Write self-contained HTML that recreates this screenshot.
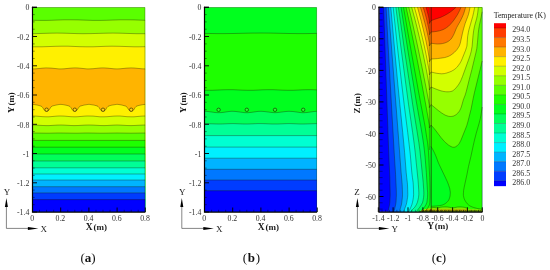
<!DOCTYPE html>
<html><head><meta charset="utf-8"><title>Temperature contours</title>
<style>html,body{margin:0;padding:0;background:#fff}svg{display:block}</style></head>
<body><svg width="550" height="270" viewBox="0 0 550 270" font-family="'Liberation Serif', 'Times New Roman', serif" fill="#1a1a1a">
<rect width="550" height="270" fill="#fff"/>
<rect x="33.0" y="7.3" width="112.1" height="204.5" fill="#5aff00"/>
<path d="M33.0,20.3 L40.0,20.4 L46.0,20.4 L51.0,20.3 L64.0,19.8 L71.0,19.8 L78.0,19.9 L93.0,20.4 L100.0,20.4 L106.0,20.3 L120.0,19.8 L127.0,19.8 L134.0,19.9 L145.1,20.3 L145.1,211.8 L33.0,211.8Z" fill="#96ff00"/>
<path d="M33.0,33.7 L50.0,33.2 L57.0,33.1 L64.0,33.2 L77.0,33.6 L83.0,33.7 L91.0,33.6 L106.0,33.2 L113.0,33.1 L120.0,33.2 L136.0,33.7 L145.1,33.7 L145.1,211.8 L33.0,211.8Z" fill="#d2ff00"/>
<path d="M33.0,46.8 L38.0,46.8 L42.0,46.8 L56.0,46.3 L62.0,46.2 L68.0,46.2 L80.0,46.7 L86.0,46.8 L93.0,46.8 L106.0,46.3 L112.0,46.2 L119.0,46.3 L134.0,46.8 L139.0,46.8 L145.1,46.7 L145.1,211.8 L33.0,211.8Z" fill="#fff000"/>
<path d="M33.0,68.9 L36.0,68.8 L43.0,68.1 L46.0,67.9 L49.0,68.0 L51.0,68.1 L57.0,68.7 L59.0,68.9 L61.0,68.9 L64.0,68.8 L71.0,68.1 L74.0,67.9 L76.0,67.9 L78.0,68.0 L85.0,68.7 L87.0,68.9 L89.0,68.9 L91.0,68.8 L93.0,68.7 L100.0,68.0 L102.0,67.9 L104.0,67.9 L107.0,68.1 L114.0,68.8 L117.0,68.9 L120.0,68.8 L127.0,68.1 L129.0,68.0 L131.0,67.9 L134.0,68.0 L142.0,68.8 L145.1,68.9 L145.1,211.8 L33.0,211.8Z" fill="#ffb400"/>
<path d="M33.0,104.4 L35.0,104.7 L37.0,105.0 L39.0,105.5 L41.0,106.1 L42.0,106.7 L43.0,108.0 L44.0,109.7 L45.0,110.8 L46.0,111.3 L47.0,111.3 L48.0,110.9 L49.0,110.0 L51.0,106.9 L52.0,106.1 L53.0,105.8 L56.0,105.1 L59.0,104.5 L60.0,104.4 L61.0,104.4 L63.0,104.6 L65.0,105.0 L67.0,105.4 L69.0,106.0 L70.0,106.5 L71.0,107.7 L72.0,109.4 L73.0,110.6 L74.0,111.2 L75.0,111.3 L76.0,111.0 L77.0,110.2 L79.0,107.1 L80.0,106.2 L81.0,105.9 L84.0,105.1 L87.0,104.6 L89.0,104.3 L92.0,104.8 L94.0,105.1 L97.0,105.9 L98.0,106.4 L99.0,107.4 L100.0,109.1 L101.0,110.5 L102.0,111.1 L103.0,111.3 L104.0,111.1 L105.0,110.5 L106.0,109.1 L107.0,107.4 L108.0,106.4 L109.0,105.9 L110.0,105.6 L112.0,105.1 L114.0,104.8 L117.0,104.3 L118.0,104.4 L120.0,104.7 L122.0,105.1 L125.0,105.9 L126.0,106.2 L127.0,107.1 L129.0,110.2 L130.0,111.0 L131.0,111.3 L132.0,111.2 L133.0,110.6 L134.0,109.4 L135.0,107.7 L136.0,106.5 L137.0,106.0 L139.0,105.4 L141.0,105.0 L143.0,104.6 L145.1,104.4 L145.1,211.8 L33.0,211.8Z" fill="#fff000"/>
<path d="M33.0,116.0 L36.0,116.1 L43.0,116.7 L46.0,116.8 L49.0,116.8 L57.0,116.1 L59.0,116.0 L61.0,116.0 L64.0,116.1 L71.0,116.7 L74.0,116.8 L76.0,116.8 L78.0,116.7 L85.0,116.1 L87.0,116.0 L89.0,116.0 L93.0,116.1 L100.0,116.8 L102.0,116.8 L104.0,116.8 L107.0,116.7 L114.0,116.1 L117.0,116.0 L120.0,116.0 L127.0,116.7 L131.0,116.8 L134.0,116.8 L142.0,116.1 L145.1,116.0 L145.1,211.8 L33.0,211.8Z" fill="#d2ff00"/>
<path d="M33.0,125.0 L36.0,125.1 L43.0,125.5 L46.0,125.6 L49.0,125.6 L57.0,125.1 L61.0,125.0 L64.0,125.1 L71.0,125.5 L74.0,125.6 L78.0,125.5 L85.0,125.1 L89.0,125.0 L93.0,125.1 L100.0,125.5 L104.0,125.6 L107.0,125.5 L114.0,125.1 L117.0,125.0 L120.0,125.1 L127.0,125.5 L131.0,125.6 L134.0,125.5 L142.0,125.1 L145.1,125.0 L145.1,211.8 L33.0,211.8Z" fill="#96ff00"/>
<path d="M33.0,133.0 L46.0,133.2 L49.0,133.2 L57.0,133.0 L61.0,133.0 L74.0,133.2 L78.0,133.2 L85.0,133.0 L89.0,133.0 L100.0,133.2 L104.0,133.2 L117.0,133.0 L131.0,133.2 L145.1,133.0 L145.1,211.8 L33.0,211.8Z" fill="#5aff00"/>
<path d="M33.0,140.4 L145.1,140.4 L145.1,211.8 L33.0,211.8Z" fill="#1eff00"/>
<path d="M33.0,147.2 L145.1,147.2 L145.1,211.8 L33.0,211.8Z" fill="#00ff1e"/>
<path d="M33.0,154.0 L145.1,154.0 L145.1,211.8 L33.0,211.8Z" fill="#00ff5a"/>
<path d="M33.0,161.0 L145.1,161.0 L145.1,211.8 L33.0,211.8Z" fill="#00ff96"/>
<path d="M33.0,167.8 L145.1,167.8 L145.1,211.8 L33.0,211.8Z" fill="#00ffd2"/>
<path d="M33.0,174.0 L145.1,174.0 L145.1,211.8 L33.0,211.8Z" fill="#00f0ff"/>
<path d="M33.0,180.0 L145.1,180.0 L145.1,211.8 L33.0,211.8Z" fill="#00b4ff"/>
<path d="M33.0,186.7 L145.1,186.7 L145.1,211.8 L33.0,211.8Z" fill="#0078ff"/>
<path d="M33.0,192.9 L145.1,192.9 L145.1,211.8 L33.0,211.8Z" fill="#003cff"/>
<path d="M33.0,199.6 L145.1,199.6 L145.1,211.8 L33.0,211.8Z" fill="#0000ff"/>
<path d="M33.0,20.3 L40.0,20.4 L46.0,20.4 L51.0,20.3 L64.0,19.8 L71.0,19.8 L78.0,19.9 L93.0,20.4 L100.0,20.4 L106.0,20.3 L120.0,19.8 L127.0,19.8 L134.0,19.9 L145.1,20.3" stroke="#1a1a00" stroke-opacity="0.7" stroke-width="0.5" fill="none"/>
<path d="M33.0,33.7 L50.0,33.2 L57.0,33.1 L64.0,33.2 L77.0,33.6 L83.0,33.7 L91.0,33.6 L106.0,33.2 L113.0,33.1 L120.0,33.2 L136.0,33.7 L145.1,33.7" stroke="#1a1a00" stroke-opacity="0.7" stroke-width="0.5" fill="none"/>
<path d="M33.0,46.8 L38.0,46.8 L42.0,46.8 L56.0,46.3 L62.0,46.2 L68.0,46.2 L80.0,46.7 L86.0,46.8 L93.0,46.8 L106.0,46.3 L112.0,46.2 L119.0,46.3 L134.0,46.8 L139.0,46.8 L145.1,46.7" stroke="#1a1a00" stroke-opacity="0.7" stroke-width="0.5" fill="none"/>
<path d="M33.0,68.9 L36.0,68.8 L43.0,68.1 L46.0,67.9 L49.0,68.0 L51.0,68.1 L57.0,68.7 L59.0,68.9 L61.0,68.9 L64.0,68.8 L71.0,68.1 L74.0,67.9 L76.0,67.9 L78.0,68.0 L85.0,68.7 L87.0,68.9 L89.0,68.9 L91.0,68.8 L93.0,68.7 L100.0,68.0 L102.0,67.9 L104.0,67.9 L107.0,68.1 L114.0,68.8 L117.0,68.9 L120.0,68.8 L127.0,68.1 L129.0,68.0 L131.0,67.9 L134.0,68.0 L142.0,68.8 L145.1,68.9" stroke="#1a1a00" stroke-opacity="0.7" stroke-width="0.5" fill="none"/>
<path d="M33.0,104.4 L35.0,104.7 L37.0,105.0 L39.0,105.5 L41.0,106.1 L42.0,106.7 L43.0,108.0 L44.0,109.7 L45.0,110.8 L46.0,111.3 L47.0,111.3 L48.0,110.9 L49.0,110.0 L51.0,106.9 L52.0,106.1 L53.0,105.8 L56.0,105.1 L59.0,104.5 L60.0,104.4 L61.0,104.4 L63.0,104.6 L65.0,105.0 L67.0,105.4 L69.0,106.0 L70.0,106.5 L71.0,107.7 L72.0,109.4 L73.0,110.6 L74.0,111.2 L75.0,111.3 L76.0,111.0 L77.0,110.2 L79.0,107.1 L80.0,106.2 L81.0,105.9 L84.0,105.1 L87.0,104.6 L89.0,104.3 L92.0,104.8 L94.0,105.1 L97.0,105.9 L98.0,106.4 L99.0,107.4 L100.0,109.1 L101.0,110.5 L102.0,111.1 L103.0,111.3 L104.0,111.1 L105.0,110.5 L106.0,109.1 L107.0,107.4 L108.0,106.4 L109.0,105.9 L110.0,105.6 L112.0,105.1 L114.0,104.8 L117.0,104.3 L118.0,104.4 L120.0,104.7 L122.0,105.1 L125.0,105.9 L126.0,106.2 L127.0,107.1 L129.0,110.2 L130.0,111.0 L131.0,111.3 L132.0,111.2 L133.0,110.6 L134.0,109.4 L135.0,107.7 L136.0,106.5 L137.0,106.0 L139.0,105.4 L141.0,105.0 L143.0,104.6 L145.1,104.4" stroke="#1a1a00" stroke-opacity="0.7" stroke-width="0.5" fill="none"/>
<path d="M33.0,116.0 L36.0,116.1 L43.0,116.7 L46.0,116.8 L49.0,116.8 L57.0,116.1 L59.0,116.0 L61.0,116.0 L64.0,116.1 L71.0,116.7 L74.0,116.8 L76.0,116.8 L78.0,116.7 L85.0,116.1 L87.0,116.0 L89.0,116.0 L93.0,116.1 L100.0,116.8 L102.0,116.8 L104.0,116.8 L107.0,116.7 L114.0,116.1 L117.0,116.0 L120.0,116.0 L127.0,116.7 L131.0,116.8 L134.0,116.8 L142.0,116.1 L145.1,116.0" stroke="#1a1a00" stroke-opacity="0.7" stroke-width="0.5" fill="none"/>
<path d="M33.0,125.0 L36.0,125.1 L43.0,125.5 L46.0,125.6 L49.0,125.6 L57.0,125.1 L61.0,125.0 L64.0,125.1 L71.0,125.5 L74.0,125.6 L78.0,125.5 L85.0,125.1 L89.0,125.0 L93.0,125.1 L100.0,125.5 L104.0,125.6 L107.0,125.5 L114.0,125.1 L117.0,125.0 L120.0,125.1 L127.0,125.5 L131.0,125.6 L134.0,125.5 L142.0,125.1 L145.1,125.0" stroke="#1a1a00" stroke-opacity="0.7" stroke-width="0.5" fill="none"/>
<path d="M33.0,133.0 L46.0,133.2 L49.0,133.2 L57.0,133.0 L61.0,133.0 L74.0,133.2 L78.0,133.2 L85.0,133.0 L89.0,133.0 L100.0,133.2 L104.0,133.2 L117.0,133.0 L131.0,133.2 L145.1,133.0" stroke="#1a1a00" stroke-opacity="0.7" stroke-width="0.5" fill="none"/>
<path d="M33.0,140.4 L145.1,140.4" stroke="#1a1a00" stroke-opacity="0.7" stroke-width="0.5" fill="none"/>
<path d="M33.0,147.2 L145.1,147.2" stroke="#1a1a00" stroke-opacity="0.7" stroke-width="0.5" fill="none"/>
<path d="M33.0,154.0 L145.1,154.0" stroke="#1a1a00" stroke-opacity="0.7" stroke-width="0.5" fill="none"/>
<path d="M33.0,161.0 L145.1,161.0" stroke="#1a1a00" stroke-opacity="0.7" stroke-width="0.5" fill="none"/>
<path d="M33.0,167.8 L145.1,167.8" stroke="#1a1a00" stroke-opacity="0.7" stroke-width="0.5" fill="none"/>
<path d="M33.0,174.0 L145.1,174.0" stroke="#1a1a00" stroke-opacity="0.7" stroke-width="0.5" fill="none"/>
<path d="M33.0,180.0 L145.1,180.0" stroke="#1a1a00" stroke-opacity="0.7" stroke-width="0.5" fill="none"/>
<path d="M33.0,186.7 L145.1,186.7" stroke="#1a1a00" stroke-opacity="0.7" stroke-width="0.5" fill="none"/>
<path d="M33.0,192.9 L145.1,192.9" stroke="#1a1a00" stroke-opacity="0.7" stroke-width="0.5" fill="none"/>
<path d="M33.0,199.6 L145.1,199.6" stroke="#1a1a00" stroke-opacity="0.7" stroke-width="0.5" fill="none"/>
<path d="M33.0,7.5 H144.9 V211.8" stroke="#1a1a00" stroke-opacity="0.55" stroke-width="0.5" fill="none"/>
<circle cx="46.6" cy="109.7" r="1.7" stroke="#1a1a00" stroke-opacity="0.85" stroke-width="0.7" fill="#ffd21e"/>
<circle cx="74.8" cy="109.7" r="1.7" stroke="#1a1a00" stroke-opacity="0.85" stroke-width="0.7" fill="#ffd21e"/>
<circle cx="103.0" cy="109.7" r="1.7" stroke="#1a1a00" stroke-opacity="0.85" stroke-width="0.7" fill="#ffd21e"/>
<circle cx="131.2" cy="109.7" r="1.7" stroke="#1a1a00" stroke-opacity="0.85" stroke-width="0.7" fill="#ffd21e"/>
<rect x="205.0" y="7.3" width="111.8" height="204.5" fill="#00ff1e"/>
<path d="M205.0,33.4 L216.0,33.6 L225.0,33.6 L233.0,33.5 L251.0,33.1 L261.0,33.0 L271.0,33.1 L289.0,33.5 L297.0,33.6 L306.0,33.6 L316.8,33.4 L316.8,211.8 L205.0,211.8Z" fill="#1eff00"/>
<path d="M205.0,90.3 L209.0,90.3 L212.0,90.3 L223.0,89.8 L228.0,89.7 L233.0,89.7 L243.0,90.2 L248.0,90.3 L253.0,90.3 L263.0,89.8 L268.0,89.7 L273.0,89.7 L283.0,90.2 L288.0,90.3 L293.0,90.3 L303.0,89.8 L307.0,89.7 L312.0,89.7 L316.8,89.9 L316.8,211.8 L205.0,211.8Z" fill="#00ff1e"/>
<path d="M205.0,111.3 L208.0,111.5 L215.0,112.5 L218.0,112.7 L221.0,112.6 L223.0,112.4 L229.0,111.5 L231.0,111.3 L233.0,111.3 L236.0,111.5 L244.0,112.6 L246.0,112.7 L248.0,112.7 L251.0,112.4 L256.0,111.7 L258.0,111.4 L261.0,111.3 L263.0,111.4 L265.0,111.6 L272.0,112.5 L275.0,112.7 L278.0,112.5 L285.0,111.6 L287.0,111.4 L289.0,111.3 L291.0,111.4 L293.0,111.5 L300.0,112.5 L302.0,112.7 L304.0,112.7 L307.0,112.5 L314.0,111.5 L316.8,111.3 L316.8,211.8 L205.0,211.8Z" fill="#00ff5a"/>
<path d="M205.0,123.6 L218.0,124.0 L221.0,124.0 L229.0,123.7 L233.0,123.6 L236.0,123.7 L244.0,124.0 L248.0,124.0 L258.0,123.6 L261.0,123.6 L265.0,123.7 L272.0,124.0 L275.0,124.0 L278.0,124.0 L285.0,123.7 L289.0,123.6 L293.0,123.7 L300.0,124.0 L304.0,124.0 L316.8,123.6 L316.8,211.8 L205.0,211.8Z" fill="#00ff96"/>
<path d="M205.0,135.6 L316.8,135.6 L316.8,211.8 L205.0,211.8Z" fill="#00ffd2"/>
<path d="M205.0,147.1 L316.8,147.1 L316.8,211.8 L205.0,211.8Z" fill="#00f0ff"/>
<path d="M205.0,158.2 L316.8,158.2 L316.8,211.8 L205.0,211.8Z" fill="#00b4ff"/>
<path d="M205.0,169.3 L316.8,169.3 L316.8,211.8 L205.0,211.8Z" fill="#0078ff"/>
<path d="M205.0,180.0 L316.8,180.0 L316.8,211.8 L205.0,211.8Z" fill="#003cff"/>
<path d="M205.0,190.7 L316.8,190.7 L316.8,211.8 L205.0,211.8Z" fill="#0000ff"/>
<path d="M205.0,33.4 L216.0,33.6 L225.0,33.6 L233.0,33.5 L251.0,33.1 L261.0,33.0 L271.0,33.1 L289.0,33.5 L297.0,33.6 L306.0,33.6 L316.8,33.4" stroke="#1a1a00" stroke-opacity="0.7" stroke-width="0.5" fill="none"/>
<path d="M205.0,90.3 L209.0,90.3 L212.0,90.3 L223.0,89.8 L228.0,89.7 L233.0,89.7 L243.0,90.2 L248.0,90.3 L253.0,90.3 L263.0,89.8 L268.0,89.7 L273.0,89.7 L283.0,90.2 L288.0,90.3 L293.0,90.3 L303.0,89.8 L307.0,89.7 L312.0,89.7 L316.8,89.9" stroke="#1a1a00" stroke-opacity="0.7" stroke-width="0.5" fill="none"/>
<path d="M205.0,111.3 L208.0,111.5 L215.0,112.5 L218.0,112.7 L221.0,112.6 L223.0,112.4 L229.0,111.5 L231.0,111.3 L233.0,111.3 L236.0,111.5 L244.0,112.6 L246.0,112.7 L248.0,112.7 L251.0,112.4 L256.0,111.7 L258.0,111.4 L261.0,111.3 L263.0,111.4 L265.0,111.6 L272.0,112.5 L275.0,112.7 L278.0,112.5 L285.0,111.6 L287.0,111.4 L289.0,111.3 L291.0,111.4 L293.0,111.5 L300.0,112.5 L302.0,112.7 L304.0,112.7 L307.0,112.5 L314.0,111.5 L316.8,111.3" stroke="#1a1a00" stroke-opacity="0.7" stroke-width="0.5" fill="none"/>
<path d="M205.0,123.6 L218.0,124.0 L221.0,124.0 L229.0,123.7 L233.0,123.6 L236.0,123.7 L244.0,124.0 L248.0,124.0 L258.0,123.6 L261.0,123.6 L265.0,123.7 L272.0,124.0 L275.0,124.0 L278.0,124.0 L285.0,123.7 L289.0,123.6 L293.0,123.7 L300.0,124.0 L304.0,124.0 L316.8,123.6" stroke="#1a1a00" stroke-opacity="0.7" stroke-width="0.5" fill="none"/>
<path d="M205.0,135.6 L316.8,135.6" stroke="#1a1a00" stroke-opacity="0.7" stroke-width="0.5" fill="none"/>
<path d="M205.0,147.1 L316.8,147.1" stroke="#1a1a00" stroke-opacity="0.7" stroke-width="0.5" fill="none"/>
<path d="M205.0,158.2 L316.8,158.2" stroke="#1a1a00" stroke-opacity="0.7" stroke-width="0.5" fill="none"/>
<path d="M205.0,169.3 L316.8,169.3" stroke="#1a1a00" stroke-opacity="0.7" stroke-width="0.5" fill="none"/>
<path d="M205.0,180.0 L316.8,180.0" stroke="#1a1a00" stroke-opacity="0.7" stroke-width="0.5" fill="none"/>
<path d="M205.0,190.7 L316.8,190.7" stroke="#1a1a00" stroke-opacity="0.7" stroke-width="0.5" fill="none"/>
<path d="M205.0,7.5 H316.6 V211.8" stroke="#1a1a00" stroke-opacity="0.55" stroke-width="0.5" fill="none"/>
<circle cx="218.6" cy="109.8" r="1.7" stroke="#1a1a00" stroke-opacity="0.85" stroke-width="0.7" fill="#28ff32"/>
<circle cx="246.8" cy="109.8" r="1.7" stroke="#1a1a00" stroke-opacity="0.85" stroke-width="0.7" fill="#28ff32"/>
<circle cx="275.0" cy="109.8" r="1.7" stroke="#1a1a00" stroke-opacity="0.85" stroke-width="0.7" fill="#28ff32"/>
<circle cx="303.2" cy="109.8" r="1.7" stroke="#1a1a00" stroke-opacity="0.85" stroke-width="0.7" fill="#28ff32"/>
<path d="M32.5,7.3 h4.5 M32.5,36.5 h4.5 M32.5,65.8 h4.5 M32.5,95.0 h4.5 M32.5,124.3 h4.5 M32.5,153.5 h4.5 M32.5,182.8 h4.5 M32.5,212.0 h4.5" stroke="#000" stroke-width="0.9" fill="none"/>
<path d="M32.5,14.6 h2.2 M32.5,21.9 h2.2 M32.5,29.2 h2.2 M32.5,43.9 h2.2 M32.5,51.2 h2.2 M32.5,58.5 h2.2 M32.5,73.1 h2.2 M32.5,80.4 h2.2 M32.5,87.7 h2.2 M32.5,102.3 h2.2 M32.5,109.7 h2.2 M32.5,117.0 h2.2 M32.5,131.6 h2.2 M32.5,138.9 h2.2 M32.5,146.2 h2.2 M32.5,160.8 h2.2 M32.5,168.1 h2.2 M32.5,175.4 h2.2 M32.5,190.1 h2.2 M32.5,197.4 h2.2 M32.5,204.7 h2.2" stroke="#000" stroke-opacity="0.7" stroke-width="0.6" fill="none"/>
<path d="M32.5,212.0 v-4.5 M60.7,212.0 v-4.5 M88.9,212.0 v-4.5 M117.1,212.0 v-4.5 M145.3,212.0 v-4.5" stroke="#000" stroke-width="0.9" fill="none"/>
<path d="M39.5,212.0 v-2.2 M46.6,212.0 v-2.2 M53.7,212.0 v-2.2 M67.8,212.0 v-2.2 M74.8,212.0 v-2.2 M81.8,212.0 v-2.2 M96.0,212.0 v-2.2 M103.0,212.0 v-2.2 M110.1,212.0 v-2.2 M124.2,212.0 v-2.2 M131.2,212.0 v-2.2 M138.2,212.0 v-2.2" stroke="#000" stroke-opacity="0.7" stroke-width="0.6" fill="none"/>
<path d="M32.5,6.8 V212.2 H145.4" stroke="#000" stroke-width="1.2" fill="none"/>
<path d="M31.9,7.3 h5" stroke="#000" stroke-width="1.1"/>
<text x="29.3" y="10.2" text-anchor="end" font-size="7.8" fill="#333">0</text>
<text x="29.3" y="39.8" text-anchor="end" font-size="7.8" fill="#333">-0.2</text>
<text x="29.3" y="69.1" text-anchor="end" font-size="7.8" fill="#333">-0.4</text>
<text x="29.3" y="98.3" text-anchor="end" font-size="7.8" fill="#333">-0.6</text>
<text x="29.3" y="127.6" text-anchor="end" font-size="7.8" fill="#333">-0.8</text>
<text x="29.3" y="156.8" text-anchor="end" font-size="7.8" fill="#333">-1</text>
<text x="29.3" y="186.1" text-anchor="end" font-size="7.8" fill="#333">-1.2</text>
<text x="29.3" y="215.3" text-anchor="end" font-size="7.8" fill="#333">-1.4</text>
<text x="32.2" y="220.6" text-anchor="middle" font-size="7.8" fill="#333">0</text>
<text x="60.4" y="220.6" text-anchor="middle" font-size="7.8" fill="#333">0.2</text>
<text x="88.6" y="220.6" text-anchor="middle" font-size="7.8" fill="#333">0.4</text>
<text x="116.8" y="220.6" text-anchor="middle" font-size="7.8" fill="#333">0.6</text>
<text x="145.0" y="220.6" text-anchor="middle" font-size="7.8" fill="#333">0.8</text>
<text transform="translate(14.0,102.7) rotate(-90)" text-anchor="middle" font-size="9" font-weight="bold">Y<tspan font-size="8.8" dx="-1.2"> (m)</tspan></text>
<text x="96.3" y="229.5" text-anchor="middle" font-size="9.5" font-weight="bold">X<tspan font-size="9" dx="-1.4"> (m)</tspan></text>
<path d="M204.5,7.3 h4.5 M204.5,36.5 h4.5 M204.5,65.8 h4.5 M204.5,95.0 h4.5 M204.5,124.3 h4.5 M204.5,153.5 h4.5 M204.5,182.8 h4.5 M204.5,212.0 h4.5" stroke="#000" stroke-width="0.9" fill="none"/>
<path d="M204.5,14.6 h2.2 M204.5,21.9 h2.2 M204.5,29.2 h2.2 M204.5,43.9 h2.2 M204.5,51.2 h2.2 M204.5,58.5 h2.2 M204.5,73.1 h2.2 M204.5,80.4 h2.2 M204.5,87.7 h2.2 M204.5,102.3 h2.2 M204.5,109.7 h2.2 M204.5,117.0 h2.2 M204.5,131.6 h2.2 M204.5,138.9 h2.2 M204.5,146.2 h2.2 M204.5,160.8 h2.2 M204.5,168.1 h2.2 M204.5,175.4 h2.2 M204.5,190.1 h2.2 M204.5,197.4 h2.2 M204.5,204.7 h2.2" stroke="#000" stroke-opacity="0.7" stroke-width="0.6" fill="none"/>
<path d="M204.5,212.0 v-4.5 M232.7,212.0 v-4.5 M260.9,212.0 v-4.5 M289.1,212.0 v-4.5 M317.3,212.0 v-4.5" stroke="#000" stroke-width="0.9" fill="none"/>
<path d="M211.6,212.0 v-2.2 M218.6,212.0 v-2.2 M225.7,212.0 v-2.2 M239.8,212.0 v-2.2 M246.8,212.0 v-2.2 M253.8,212.0 v-2.2 M267.9,212.0 v-2.2 M275.0,212.0 v-2.2 M282.1,212.0 v-2.2 M296.1,212.0 v-2.2 M303.2,212.0 v-2.2 M310.2,212.0 v-2.2" stroke="#000" stroke-opacity="0.7" stroke-width="0.6" fill="none"/>
<path d="M204.5,6.8 V212.2 H317.1" stroke="#000" stroke-width="1.2" fill="none"/>
<path d="M203.9,7.3 h5" stroke="#000" stroke-width="1.1"/>
<text x="201.3" y="10.2" text-anchor="end" font-size="7.8" fill="#333">0</text>
<text x="201.3" y="39.8" text-anchor="end" font-size="7.8" fill="#333">-0.2</text>
<text x="201.3" y="69.1" text-anchor="end" font-size="7.8" fill="#333">-0.4</text>
<text x="201.3" y="98.3" text-anchor="end" font-size="7.8" fill="#333">-0.6</text>
<text x="201.3" y="127.6" text-anchor="end" font-size="7.8" fill="#333">-0.8</text>
<text x="201.3" y="156.8" text-anchor="end" font-size="7.8" fill="#333">-1</text>
<text x="201.3" y="186.1" text-anchor="end" font-size="7.8" fill="#333">-1.2</text>
<text x="201.3" y="215.3" text-anchor="end" font-size="7.8" fill="#333">-1.4</text>
<text x="204.2" y="220.6" text-anchor="middle" font-size="7.8" fill="#333">0</text>
<text x="232.4" y="220.6" text-anchor="middle" font-size="7.8" fill="#333">0.2</text>
<text x="260.6" y="220.6" text-anchor="middle" font-size="7.8" fill="#333">0.4</text>
<text x="288.8" y="220.6" text-anchor="middle" font-size="7.8" fill="#333">0.6</text>
<text x="317.0" y="220.6" text-anchor="middle" font-size="7.8" fill="#333">0.8</text>
<text transform="translate(186.0,102.7) rotate(-90)" text-anchor="middle" font-size="9" font-weight="bold">Y<tspan font-size="8.8" dx="-1.2"> (m)</tspan></text>
<text x="268.3" y="229.5" text-anchor="middle" font-size="9.5" font-weight="bold">X<tspan font-size="9" dx="-1.4"> (m)</tspan></text>
<path d="M6.4,204.4 V228.4 H30.4" stroke="#333" stroke-width="0.6" fill="none"/>
<path d="M6.4,198.0 l-1.5,9 h3z" fill="#000"/>
<path d="M38.4,228.4 l-10.5,-1.5 v3z" fill="#000"/>
<text x="7.0" y="195.2" text-anchor="middle" font-size="9">Y</text>
<text x="40.6" y="232.2" font-size="9">X</text>
<path d="M181.8,204.4 V228.4 H205.8" stroke="#333" stroke-width="0.6" fill="none"/>
<path d="M181.8,198.0 l-1.5,9 h3z" fill="#000"/>
<path d="M213.8,228.4 l-10.5,-1.5 v3z" fill="#000"/>
<text x="182.2" y="195.2" text-anchor="middle" font-size="9">Y</text>
<text x="216.0" y="232.2" font-size="9">X</text>
<path d="M357.4,204.4 V228.4 H381.4" stroke="#333" stroke-width="0.6" fill="none"/>
<path d="M357.4,198.0 l-1.5,9 h3z" fill="#000"/>
<path d="M389.4,228.4 l-10.5,-1.5 v3z" fill="#000"/>
<text x="357.1" y="195.2" text-anchor="middle" font-size="9">Z</text>
<text x="391.6" y="232.2" font-size="9">Y</text>
<text x="88.1" y="262.2" text-anchor="middle" font-size="13" letter-spacing="0.0" fill="#111">(<tspan font-weight="bold">a</tspan>)</text>
<text x="251.7" y="262.2" text-anchor="middle" font-size="13" letter-spacing="0.7" fill="#111">(<tspan font-weight="bold">b</tspan>)</text>
<text x="438.9" y="262.2" text-anchor="middle" font-size="13" letter-spacing="0.0" fill="#111">(<tspan font-weight="bold">c</tspan>)</text>
<rect x="494.0" y="23.20" width="12.0" height="4.85" fill="#ff0000"/>
<rect x="494.0" y="28.00" width="12.0" height="9.60" fill="#ff3c00"/>
<rect x="494.0" y="37.55" width="12.0" height="9.60" fill="#ff7800"/>
<rect x="494.0" y="47.10" width="12.0" height="9.60" fill="#ffb400"/>
<rect x="494.0" y="56.65" width="12.0" height="9.60" fill="#fff000"/>
<rect x="494.0" y="66.20" width="12.0" height="9.60" fill="#d2ff00"/>
<rect x="494.0" y="75.75" width="12.0" height="9.60" fill="#96ff00"/>
<rect x="494.0" y="85.30" width="12.0" height="9.60" fill="#5aff00"/>
<rect x="494.0" y="94.85" width="12.0" height="9.60" fill="#1eff00"/>
<rect x="494.0" y="104.40" width="12.0" height="9.60" fill="#00ff1e"/>
<rect x="494.0" y="113.95" width="12.0" height="9.60" fill="#00ff5a"/>
<rect x="494.0" y="123.50" width="12.0" height="9.60" fill="#00ff96"/>
<rect x="494.0" y="133.05" width="12.0" height="9.60" fill="#00ffd2"/>
<rect x="494.0" y="142.60" width="12.0" height="9.60" fill="#00f0ff"/>
<rect x="494.0" y="152.15" width="12.0" height="9.60" fill="#00b4ff"/>
<rect x="494.0" y="161.70" width="12.0" height="9.60" fill="#0078ff"/>
<rect x="494.0" y="171.25" width="12.0" height="9.60" fill="#003cff"/>
<rect x="494.0" y="180.80" width="12.0" height="5.35" fill="#0000ff"/>
<path d="M494.0,28.00 H506.0 M494.0,37.55 H506.0 M494.0,47.10 H506.0 M494.0,56.65 H506.0 M494.0,66.20 H506.0 M494.0,75.75 H506.0 M494.0,85.30 H506.0 M494.0,94.85 H506.0 M494.0,104.40 H506.0 M494.0,113.95 H506.0 M494.0,123.50 H506.0 M494.0,133.05 H506.0 M494.0,142.60 H506.0 M494.0,152.15 H506.0 M494.0,161.70 H506.0 M494.0,171.25 H506.0 M494.0,180.80 H506.0" stroke="#000" stroke-opacity="0.45" stroke-width="0.5"/>
<text x="512.2" y="32.4" font-size="8" fill="#333">294.0</text>
<text x="512.2" y="41.9" font-size="8" fill="#333">293.5</text>
<text x="512.2" y="51.5" font-size="8" fill="#333">293.0</text>
<text x="512.2" y="61.1" font-size="8" fill="#333">292.5</text>
<text x="512.2" y="70.6" font-size="8" fill="#333">292.0</text>
<text x="512.2" y="80.2" font-size="8" fill="#333">291.5</text>
<text x="512.2" y="89.7" font-size="8" fill="#333">291.0</text>
<text x="512.2" y="99.3" font-size="8" fill="#333">290.5</text>
<text x="512.2" y="108.8" font-size="8" fill="#333">290.0</text>
<text x="512.2" y="118.4" font-size="8" fill="#333">289.5</text>
<text x="512.2" y="127.9" font-size="8" fill="#333">289.0</text>
<text x="512.2" y="137.5" font-size="8" fill="#333">288.5</text>
<text x="512.2" y="147.0" font-size="8" fill="#333">288.0</text>
<text x="512.2" y="156.6" font-size="8" fill="#333">287.5</text>
<text x="512.2" y="166.1" font-size="8" fill="#333">287.0</text>
<text x="512.2" y="175.7" font-size="8" fill="#333">286.5</text>
<text x="512.2" y="185.2" font-size="8" fill="#333">286.0</text>
<text x="493.7" y="18.4" font-size="7.8" fill="#222">Temperature (K)</text>
<rect x="379.3" y="7.3" width="102.9" height="204.5" fill="#0000ff"/>
<path d="M383.6,7.3 L387.8,127.3 L388.7,152.3 L389.8,177.3 L390.1,189.8 L390.2,194.8 L390.1,197.3 L389.8,202.3 L389.5,204.8 L389.0,207.3 L388.4,209.8 L387.8,211.8 L429.4,211.8 L429.4,7.3Z" fill="#003cff"/>
<path d="M386.1,7.3 L388.5,52.3 L391.3,102.3 L394.2,152.3 L395.6,174.8 L396.3,189.8 L396.4,194.8 L396.3,197.3 L396.0,202.3 L395.6,204.8 L394.4,209.8 L393.8,211.8 L429.4,211.8 L429.4,7.3Z" fill="#0078ff"/>
<path d="M388.4,7.3 L398.7,139.8 L401.1,172.3 L402.0,182.3 L402.2,184.8 L402.4,189.8 L402.5,194.8 L402.4,197.3 L402.1,199.8 L401.8,202.3 L401.4,204.8 L400.7,207.3 L399.9,209.8 L399.2,211.8 L429.4,211.8 L429.4,7.3Z" fill="#00b4ff"/>
<path d="M390.8,7.3 L394.2,44.8 L397.9,84.8 L399.9,104.8 L402.7,132.3 L403.9,144.8 L404.6,152.3 L406.2,172.3 L406.7,177.3 L407.3,182.3 L407.5,184.8 L407.7,189.8 L407.8,194.8 L407.6,197.3 L407.2,199.8 L406.8,202.3 L406.2,204.8 L404.3,209.8 L403.4,211.8 L429.4,211.8 L429.4,7.3Z" fill="#00f0ff"/>
<path d="M393.2,7.3 L397.2,44.8 L401.8,84.8 L404.2,104.8 L407.7,132.3 L409.2,144.8 L410.3,154.8 L411.8,172.3 L412.4,177.3 L413.1,182.3 L413.3,184.8 L413.5,189.8 L413.6,194.8 L413.4,197.3 L413.0,199.8 L412.5,202.3 L411.8,204.8 L410.8,207.3 L409.6,209.8 L408.6,211.8 L429.4,211.8 L429.4,7.3Z" fill="#00ffd2"/>
<path d="M395.9,7.3 L400.6,44.8 L405.9,84.8 L408.6,104.8 L412.6,132.3 L414.3,144.8 L415.2,152.3 L416.2,162.3 L418.0,179.8 L418.4,184.8 L418.7,189.8 L418.8,192.3 L418.8,194.8 L418.5,197.3 L418.0,199.8 L417.4,202.3 L416.3,204.8 L414.7,207.3 L412.2,209.8 L410.8,211.8 L429.4,211.8 L429.4,7.3Z" fill="#00ff96"/>
<path d="M398.4,7.3 L404.1,47.3 L410.5,89.8 L412.7,104.8 L416.8,129.8 L418.8,142.3 L419.8,149.8 L420.9,159.8 L423.2,182.3 L423.7,189.8 L423.8,192.3 L423.8,194.8 L423.6,197.3 L423.2,199.8 L422.6,202.3 L421.4,204.8 L419.7,207.3 L417.7,209.8 L416.4,211.8 L429.4,211.8 L429.4,7.3Z" fill="#00ff5a"/>
<path d="M401.0,7.3 L408.2,52.3 L416.0,99.8 L417.3,107.3 L420.9,127.3 L422.2,134.8 L423.7,144.8 L424.3,149.8 L425.1,157.3 L425.7,164.8 L426.3,172.3 L427.4,189.8 L427.6,192.3 L427.6,194.8 L427.5,197.3 L427.2,199.8 L426.9,202.3 L425.9,204.8 L424.3,207.3 L422.0,209.8 L420.5,211.8 L429.4,211.8 L429.4,7.3Z" fill="#00ff1e"/>
<path d="M403.5,7.3 L408.3,34.8 L413.2,62.3 L420.5,102.3 L424.3,122.3 L425.2,127.3 L426.7,137.3 L427.5,142.3 L428.1,147.3 L428.5,152.3 L428.9,159.8 L429.7,177.3 L429.8,182.3 L430.0,189.8 L430.0,197.3 L429.9,199.8 L429.8,202.3 L429.5,204.8 L428.2,207.3 L425.0,211.8 L429.4,211.8 L429.4,7.3Z" fill="#1eff00"/>
<path d="M406.1,7.3 L409.8,24.1 L413.3,40.9 L416.8,57.7 L420.9,78.8 L425.6,104.0 L429.4,125.0 L429.4,127.8 L429.4,7.3Z" fill="#5aff00"/>
<path d="M408.8,7.3 L411.8,20.0 L415.6,37.0 L418.4,49.8 L421.9,66.8 L425.3,83.8 L429.4,105.0 L429.4,107.8 L429.4,7.3Z" fill="#96ff00"/>
<path d="M411.7,7.3 L415.3,20.6 L417.5,29.4 L419.6,38.3 L422.6,51.6 L425.4,64.9 L427.9,78.1 L429.4,87.0 L429.4,89.8 L429.4,7.3Z" fill="#d2ff00"/>
<path d="M414.4,7.3 L416.8,15.9 L419.1,24.6 L422.3,37.5 L424.3,46.1 L426.1,54.7 L428.6,67.7 L429.4,72.0 L429.4,74.8 L429.4,7.3Z" fill="#fff000"/>
<path d="M417.5,7.3 L418.8,12.0 L421.3,21.4 L423.6,30.8 L425.8,40.2 L427.7,49.6 L429.4,59.0 L429.4,61.8 L429.4,7.3Z" fill="#ffb400"/>
<path d="M420.4,7.3 L422.0,12.4 L423.4,17.6 L424.8,22.7 L426.1,27.8 L427.3,32.9 L428.4,38.1 L429.4,43.2 L429.4,46.0 L429.4,7.3Z" fill="#ff7800"/>
<path d="M423.2,7.3 L424.7,12.2 L426.1,17.2 L427.3,22.1 L428.4,27.1 L429.4,32.0 L429.4,34.8 L429.4,7.3Z" fill="#ff3c00"/>
<path d="M426.0,7.3 L427.3,11.8 L428.5,16.2 L429.4,20.7 L429.4,23.5 L429.4,7.3Z" fill="#ff0000"/>
<rect x="429.4" y="7.3" width="52.8" height="204.5" fill="#1eff00"/>
<path d="M429.4,127.8 L431.0,125.0 L433.2,127.4 L435.4,130.1 L440.9,137.4 L443.2,140.1 L444.4,141.4 L445.7,142.7 L447.0,143.8 L448.3,144.9 L449.7,145.8 L451.2,146.6 L452.6,147.2 L454.1,147.3 L455.6,146.8 L457.0,145.9 L458.2,144.7 L459.3,143.4 L460.1,141.8 L460.9,140.3 L466.2,127.1 L466.8,125.4 L467.8,122.0 L470.1,113.0 L471.0,109.4 L473.2,98.3 L474.5,92.3 L482.2,61.0 L482.2,7.3 L429.4,7.3Z" fill="#5aff00"/>
<path d="M429.4,107.3 L431.0,104.5 L438.4,110.6 L441.7,113.0 L443.4,114.1 L445.1,115.1 L446.9,115.8 L448.6,116.3 L450.3,116.5 L451.9,116.4 L453.4,116.1 L454.9,115.4 L456.3,114.5 L457.6,113.3 L458.8,111.9 L459.8,110.4 L460.6,108.7 L461.3,107.0 L463.3,99.9 L465.2,95.0 L466.3,91.3 L469.3,79.3 L471.9,69.4 L475.9,52.7 L476.8,48.6 L477.0,46.5 L477.5,42.2 L478.2,33.6 L478.7,29.3 L479.4,25.3 L481.0,17.6 L482.2,11.8 L482.2,7.3 L429.4,7.3Z" fill="#96ff00"/>
<path d="M429.4,89.8 L431.0,87.0 L435.1,88.7 L437.9,89.8 L440.9,90.8 L442.4,91.2 L443.9,91.5 L445.4,91.7 L446.8,91.8 L448.2,91.8 L449.6,91.7 L450.9,91.5 L452.2,91.1 L453.3,90.4 L454.4,89.5 L455.5,88.5 L456.5,87.3 L458.4,84.9 L459.2,83.6 L460.0,82.2 L460.7,80.9 L461.3,79.4 L462.5,76.5 L469.2,58.0 L470.3,54.7 L471.2,51.4 L471.5,49.7 L472.1,46.4 L473.0,35.8 L473.7,30.4 L474.4,26.8 L474.8,25.1 L476.6,18.7 L477.3,15.5 L477.8,12.3 L478.3,7.3 L429.4,7.3Z" fill="#d2ff00"/>
<path d="M429.4,74.8 L431.0,72.0 L434.4,72.8 L436.8,73.3 L439.2,73.6 L441.7,73.8 L443.0,73.7 L444.3,73.6 L445.5,73.3 L446.7,73.0 L449.1,72.2 L451.4,71.3 L452.4,70.7 L453.5,70.1 L454.5,69.4 L455.5,68.6 L456.4,67.7 L457.4,66.8 L458.2,65.7 L459.8,63.5 L461.1,61.2 L462.2,58.7 L465.6,50.2 L466.4,47.7 L466.8,46.4 L467.0,45.1 L467.2,42.5 L467.6,36.9 L467.8,35.5 L468.3,32.6 L468.9,29.8 L469.7,27.0 L472.7,16.5 L473.6,12.6 L474.7,7.3 L429.4,7.3Z" fill="#fff000"/>
<path d="M429.4,61.8 L431.0,59.0 L437.3,58.6 L440.4,58.2 L442.5,57.9 L444.5,57.6 L446.4,57.1 L448.3,56.4 L449.2,56.0 L451.0,55.0 L451.8,54.4 L453.5,53.1 L454.3,52.4 L455.8,50.9 L457.2,49.3 L458.3,47.6 L458.9,46.7 L459.3,45.8 L460.1,43.8 L460.6,41.8 L462.5,33.0 L463.6,28.7 L464.5,25.6 L465.1,23.6 L467.7,16.7 L468.4,14.7 L469.2,11.6 L470.0,7.3 L429.4,7.3Z" fill="#ffb400"/>
<path d="M429.4,46.0 L431.0,43.2 L435.1,43.8 L437.5,44.0 L439.9,43.9 L442.3,43.6 L444.7,43.0 L447.0,42.1 L448.4,41.3 L449.1,40.8 L450.3,39.8 L450.9,39.2 L451.9,37.9 L453.1,35.8 L454.2,33.6 L456.0,29.1 L456.7,27.6 L457.8,25.5 L460.3,21.1 L461.8,18.0 L462.9,15.6 L463.8,13.3 L464.5,11.0 L465.6,7.3 L429.4,7.3Z" fill="#ff7800"/>
<path d="M429.4,34.8 L431.0,32.0 L434.3,31.7 L437.1,31.3 L439.5,30.8 L441.2,30.3 L442.9,29.7 L445.1,28.6 L446.6,27.6 L448.5,26.2 L450.2,24.5 L451.9,22.6 L453.9,20.1 L455.7,17.4 L457.4,14.8 L458.5,12.7 L459.6,10.6 L461.0,7.3 L429.4,7.3Z" fill="#ff3c00"/>
<path d="M429.4,23.5 L431.0,20.7 L434.2,19.5 L440.5,17.4 L442.5,16.5 L444.7,15.4 L447.7,13.7 L450.6,11.8 L452.9,10.0 L456.0,7.3 L429.4,7.3Z" fill="#ff0000"/>
<path d="M429.4,146.5 L431.0,146.5 L433.0,149.9 L434.7,153.4 L435.8,155.9 L438.2,162.3 L439.3,164.8 L445.8,178.3 L448.0,183.4 L448.9,185.9 L449.7,188.4 L450.1,190.8 L450.3,192.1 L450.3,193.3 L450.2,194.6 L450.1,195.9 L449.8,197.2 L449.4,198.4 L448.9,199.6 L448.3,200.7 L447.5,201.6 L446.6,202.5 L445.7,203.3 L444.6,204.0 L443.5,204.5 L442.4,205.0 L441.2,205.3 L438.7,205.7 L434.9,206.1 L431.0,206.3 L429.4,206.3Z" fill="#00ff1e"/>
<path d="M482.2,107.0 L482.2,107.0Z" fill="#00ff1e"/>
<defs><linearGradient id="bs" x1="0" y1="207.2" x2="0" y2="211.8" gradientUnits="userSpaceOnUse"><stop offset="0" stop-color="#46ff00"/><stop offset="0.3" stop-color="#8cec00"/><stop offset="0.55" stop-color="#b8d000"/><stop offset="0.8" stop-color="#a08c00"/><stop offset="1" stop-color="#403800"/></linearGradient><linearGradient id="bs2" x1="0" y1="208" x2="0" y2="211.8" gradientUnits="userSpaceOnUse"><stop offset="0" stop-color="#1eff00"/><stop offset="0.5" stop-color="#8ce800"/><stop offset="0.8" stop-color="#7aa000"/><stop offset="1" stop-color="#404000"/></linearGradient></defs>
<path d="M418.5,211.8 L422.8,209.8 L427.0,208.6 L434.0,207.4 L437.5,208.0 L440.8,207.2 L442.5,207.0 L444.2,206.9 L446.0,206.9 L447.7,207.0 L449.4,207.3 L452.8,208.0 L456.0,207.3 L457.6,207.0 L459.2,206.9 L460.9,206.9 L462.6,207.1 L464.2,207.3 L467.3,208.2 L467.3,211.8Z" fill="url(#bs)"/>
<path d="M467.3,208.2 L475,208.8 L482.2,209.6 V211.8 H467.3Z" fill="url(#bs2)"/>
<path d="M383.6,7.3 L387.8,127.3 L388.7,152.3 L389.8,177.3 L390.1,189.8 L390.2,194.8 L390.1,197.3 L389.8,202.3 L389.5,204.8 L389.0,207.3 L388.4,209.8 L387.8,211.8" stroke="#1a1a00" stroke-opacity="0.7" stroke-width="0.5" fill="none"/>
<path d="M386.1,7.3 L388.5,52.3 L391.3,102.3 L394.2,152.3 L395.6,174.8 L396.3,189.8 L396.4,194.8 L396.3,197.3 L396.0,202.3 L395.6,204.8 L394.4,209.8 L393.8,211.8" stroke="#1a1a00" stroke-opacity="0.7" stroke-width="0.5" fill="none"/>
<path d="M388.4,7.3 L398.7,139.8 L401.1,172.3 L402.0,182.3 L402.2,184.8 L402.4,189.8 L402.5,194.8 L402.4,197.3 L402.1,199.8 L401.8,202.3 L401.4,204.8 L400.7,207.3 L399.9,209.8 L399.2,211.8" stroke="#1a1a00" stroke-opacity="0.7" stroke-width="0.5" fill="none"/>
<path d="M390.8,7.3 L394.2,44.8 L397.9,84.8 L399.9,104.8 L402.7,132.3 L403.9,144.8 L404.6,152.3 L406.2,172.3 L406.7,177.3 L407.3,182.3 L407.5,184.8 L407.7,189.8 L407.8,194.8 L407.6,197.3 L407.2,199.8 L406.8,202.3 L406.2,204.8 L404.3,209.8 L403.4,211.8" stroke="#1a1a00" stroke-opacity="0.7" stroke-width="0.5" fill="none"/>
<path d="M393.2,7.3 L397.2,44.8 L401.8,84.8 L404.2,104.8 L407.7,132.3 L409.2,144.8 L410.3,154.8 L411.8,172.3 L412.4,177.3 L413.1,182.3 L413.3,184.8 L413.5,189.8 L413.6,194.8 L413.4,197.3 L413.0,199.8 L412.5,202.3 L411.8,204.8 L410.8,207.3 L409.6,209.8 L408.6,211.8" stroke="#1a1a00" stroke-opacity="0.7" stroke-width="0.5" fill="none"/>
<path d="M395.9,7.3 L400.6,44.8 L405.9,84.8 L408.6,104.8 L412.6,132.3 L414.3,144.8 L415.2,152.3 L416.2,162.3 L418.0,179.8 L418.4,184.8 L418.7,189.8 L418.8,192.3 L418.8,194.8 L418.5,197.3 L418.0,199.8 L417.4,202.3 L416.3,204.8 L414.7,207.3 L412.2,209.8 L410.8,211.8" stroke="#1a1a00" stroke-opacity="0.7" stroke-width="0.5" fill="none"/>
<path d="M398.4,7.3 L404.1,47.3 L410.5,89.8 L412.7,104.8 L416.8,129.8 L418.8,142.3 L419.8,149.8 L420.9,159.8 L423.2,182.3 L423.7,189.8 L423.8,192.3 L423.8,194.8 L423.6,197.3 L423.2,199.8 L422.6,202.3 L421.4,204.8 L419.7,207.3 L417.7,209.8 L416.4,211.8" stroke="#1a1a00" stroke-opacity="0.7" stroke-width="0.5" fill="none"/>
<path d="M401.0,7.3 L408.2,52.3 L416.0,99.8 L417.3,107.3 L420.9,127.3 L422.2,134.8 L423.7,144.8 L424.3,149.8 L425.1,157.3 L425.7,164.8 L426.3,172.3 L427.4,189.8 L427.6,192.3 L427.6,194.8 L427.5,197.3 L427.2,199.8 L426.9,202.3 L425.9,204.8 L424.3,207.3 L422.0,209.8 L420.5,211.8" stroke="#1a1a00" stroke-opacity="0.7" stroke-width="0.5" fill="none"/>
<path d="M403.5,7.3 L408.3,34.8 L413.2,62.3 L420.5,102.3 L424.3,122.3 L425.2,127.3 L426.7,137.3 L427.5,142.3 L428.1,147.3 L428.5,152.3 L428.9,159.8 L429.7,177.3 L429.8,182.3 L430.0,189.8 L430.0,197.3 L429.9,199.8 L429.8,202.3 L429.5,204.8 L428.2,207.3 L425.0,211.8" stroke="#1a1a00" stroke-opacity="0.7" stroke-width="0.5" fill="none"/>
<path d="M406.1,7.3 L409.8,24.1 L413.3,40.9 L416.8,57.7 L420.9,78.8 L425.6,104.0 L429.4,125.0 L429.4,127.8" stroke="#1a1a00" stroke-opacity="0.7" stroke-width="0.5" fill="none"/>
<path d="M408.8,7.3 L411.8,20.0 L415.6,37.0 L418.4,49.8 L421.9,66.8 L425.3,83.8 L429.4,105.0 L429.4,107.8" stroke="#1a1a00" stroke-opacity="0.7" stroke-width="0.5" fill="none"/>
<path d="M411.7,7.3 L415.3,20.6 L417.5,29.4 L419.6,38.3 L422.6,51.6 L425.4,64.9 L427.9,78.1 L429.4,87.0 L429.4,89.8" stroke="#1a1a00" stroke-opacity="0.7" stroke-width="0.5" fill="none"/>
<path d="M414.4,7.3 L416.8,15.9 L419.1,24.6 L422.3,37.5 L424.3,46.1 L426.1,54.7 L428.6,67.7 L429.4,72.0 L429.4,74.8" stroke="#1a1a00" stroke-opacity="0.7" stroke-width="0.5" fill="none"/>
<path d="M417.5,7.3 L418.8,12.0 L421.3,21.4 L423.6,30.8 L425.8,40.2 L427.7,49.6 L429.4,59.0 L429.4,61.8" stroke="#1a1a00" stroke-opacity="0.7" stroke-width="0.5" fill="none"/>
<path d="M420.4,7.3 L422.0,12.4 L423.4,17.6 L424.8,22.7 L426.1,27.8 L427.3,32.9 L428.4,38.1 L429.4,43.2 L429.4,46.0" stroke="#1a1a00" stroke-opacity="0.7" stroke-width="0.5" fill="none"/>
<path d="M423.2,7.3 L424.7,12.2 L426.1,17.2 L427.3,22.1 L428.4,27.1 L429.4,32.0 L429.4,34.8" stroke="#1a1a00" stroke-opacity="0.7" stroke-width="0.5" fill="none"/>
<path d="M426.0,7.3 L427.3,11.8 L428.5,16.2 L429.4,20.7 L429.4,23.5" stroke="#1a1a00" stroke-opacity="0.7" stroke-width="0.5" fill="none"/>
<path d="M429.4,127.8 L431.0,125.0 L433.2,127.4 L435.4,130.1 L440.9,137.4 L443.2,140.1 L444.4,141.4 L445.7,142.7 L447.0,143.8 L448.3,144.9 L449.7,145.8 L451.2,146.6 L452.6,147.2 L454.1,147.3 L455.6,146.8 L457.0,145.9 L458.2,144.7 L459.3,143.4 L460.1,141.8 L460.9,140.3 L466.2,127.1 L466.8,125.4 L467.8,122.0 L470.1,113.0 L471.0,109.4 L473.2,98.3 L474.5,92.3 L482.2,61.0" stroke="#1a1a00" stroke-opacity="0.7" stroke-width="0.5" fill="none"/>
<path d="M429.4,107.3 L431.0,104.5 L438.4,110.6 L441.7,113.0 L443.4,114.1 L445.1,115.1 L446.9,115.8 L448.6,116.3 L450.3,116.5 L451.9,116.4 L453.4,116.1 L454.9,115.4 L456.3,114.5 L457.6,113.3 L458.8,111.9 L459.8,110.4 L460.6,108.7 L461.3,107.0 L463.3,99.9 L465.2,95.0 L466.3,91.3 L469.3,79.3 L471.9,69.4 L475.9,52.7 L476.8,48.6 L477.0,46.5 L477.5,42.2 L478.2,33.6 L478.7,29.3 L479.4,25.3 L481.0,17.6 L482.2,11.8" stroke="#1a1a00" stroke-opacity="0.7" stroke-width="0.5" fill="none"/>
<path d="M429.4,89.8 L431.0,87.0 L435.1,88.7 L437.9,89.8 L440.9,90.8 L442.4,91.2 L443.9,91.5 L445.4,91.7 L446.8,91.8 L448.2,91.8 L449.6,91.7 L450.9,91.5 L452.2,91.1 L453.3,90.4 L454.4,89.5 L455.5,88.5 L456.5,87.3 L458.4,84.9 L459.2,83.6 L460.0,82.2 L460.7,80.9 L461.3,79.4 L462.5,76.5 L469.2,58.0 L470.3,54.7 L471.2,51.4 L471.5,49.7 L472.1,46.4 L473.0,35.8 L473.7,30.4 L474.4,26.8 L474.8,25.1 L476.6,18.7 L477.3,15.5 L477.8,12.3 L478.3,7.3" stroke="#1a1a00" stroke-opacity="0.7" stroke-width="0.5" fill="none"/>
<path d="M429.4,74.8 L431.0,72.0 L434.4,72.8 L436.8,73.3 L439.2,73.6 L441.7,73.8 L443.0,73.7 L444.3,73.6 L445.5,73.3 L446.7,73.0 L449.1,72.2 L451.4,71.3 L452.4,70.7 L453.5,70.1 L454.5,69.4 L455.5,68.6 L456.4,67.7 L457.4,66.8 L458.2,65.7 L459.8,63.5 L461.1,61.2 L462.2,58.7 L465.6,50.2 L466.4,47.7 L466.8,46.4 L467.0,45.1 L467.2,42.5 L467.6,36.9 L467.8,35.5 L468.3,32.6 L468.9,29.8 L469.7,27.0 L472.7,16.5 L473.6,12.6 L474.7,7.3" stroke="#1a1a00" stroke-opacity="0.7" stroke-width="0.5" fill="none"/>
<path d="M429.4,61.8 L431.0,59.0 L437.3,58.6 L440.4,58.2 L442.5,57.9 L444.5,57.6 L446.4,57.1 L448.3,56.4 L449.2,56.0 L451.0,55.0 L451.8,54.4 L453.5,53.1 L454.3,52.4 L455.8,50.9 L457.2,49.3 L458.3,47.6 L458.9,46.7 L459.3,45.8 L460.1,43.8 L460.6,41.8 L462.5,33.0 L463.6,28.7 L464.5,25.6 L465.1,23.6 L467.7,16.7 L468.4,14.7 L469.2,11.6 L470.0,7.3" stroke="#1a1a00" stroke-opacity="0.7" stroke-width="0.5" fill="none"/>
<path d="M429.4,46.0 L431.0,43.2 L435.1,43.8 L437.5,44.0 L439.9,43.9 L442.3,43.6 L444.7,43.0 L447.0,42.1 L448.4,41.3 L449.1,40.8 L450.3,39.8 L450.9,39.2 L451.9,37.9 L453.1,35.8 L454.2,33.6 L456.0,29.1 L456.7,27.6 L457.8,25.5 L460.3,21.1 L461.8,18.0 L462.9,15.6 L463.8,13.3 L464.5,11.0 L465.6,7.3" stroke="#1a1a00" stroke-opacity="0.7" stroke-width="0.5" fill="none"/>
<path d="M429.4,34.8 L431.0,32.0 L434.3,31.7 L437.1,31.3 L439.5,30.8 L441.2,30.3 L442.9,29.7 L445.1,28.6 L446.6,27.6 L448.5,26.2 L450.2,24.5 L451.9,22.6 L453.9,20.1 L455.7,17.4 L457.4,14.8 L458.5,12.7 L459.6,10.6 L461.0,7.3" stroke="#1a1a00" stroke-opacity="0.7" stroke-width="0.5" fill="none"/>
<path d="M429.4,23.5 L431.0,20.7 L434.2,19.5 L440.5,17.4 L442.5,16.5 L444.7,15.4 L447.7,13.7 L450.6,11.8 L452.9,10.0 L456.0,7.3" stroke="#1a1a00" stroke-opacity="0.7" stroke-width="0.5" fill="none"/>
<path d="M431.0,146.5 L433.0,149.9 L434.7,153.4 L435.8,155.9 L438.2,162.3 L439.3,164.8 L445.2,177.1 L447.5,182.1 L448.9,185.9 L449.7,188.4 L450.1,190.8 L450.3,192.1 L450.3,193.3 L450.2,194.6 L450.1,195.9 L449.8,197.2 L449.4,198.4 L448.9,199.6 L448.3,200.7 L447.5,201.6 L446.6,202.5 L445.7,203.3 L444.6,204.0 L443.5,204.5 L442.4,205.0 L441.2,205.3 L439.9,205.6 L438.7,205.7 L436.2,206.0 L431.0,206.3" stroke="#1a1a00" stroke-opacity="0.7" stroke-width="0.5" fill="none"/>
<path d="M482.2,107.0 L481.2,113.6 L480.3,118.6 L479.0,123.6 L476.2,133.4 L474.5,140.0 L473.3,145.3 L470.9,156.5 L468.5,166.5 L466.9,174.8 L464.2,187.2 L463.6,190.6 L463.5,192.2 L463.4,193.8 L463.4,195.4 L463.7,196.9 L464.1,198.4 L464.7,199.9 L465.5,201.3 L466.4,202.6 L467.3,203.8 L468.4,204.8 L469.6,205.7 L470.9,206.4 L472.3,207.0 L473.7,207.5 L476.5,208.3 L477.9,208.6 L482.2,209.3" stroke="#1a1a00" stroke-opacity="0.7" stroke-width="0.5" fill="none"/>
<path d="M431.0,207.9 L434.0,207.4 L437.5,208.0 L440.8,207.2 L442.5,207.0 L444.2,206.9 L446.0,206.9 L447.7,207.0 L449.4,207.3 L452.8,208.0 L456.0,207.3 L457.6,207.0 L459.2,206.9 L460.9,206.9 L462.6,207.1 L464.2,207.3 L467.3,208.2" stroke="#1a1a00" stroke-opacity="0.7" stroke-width="0.5" fill="none"/>
<path d="M423,210.6 H482.2" stroke="#202000" stroke-opacity="0.7" stroke-width="0.8" stroke-dasharray="1.3,0.8" fill="none"/>
<path d="M426,209.3 H467" stroke="#202000" stroke-opacity="0.3" stroke-width="0.5" fill="none"/>
<path d="M431.0,208.6 L433.2,211.8 H428.8Z" fill="#302800" fill-opacity="0.7"/>
<path d="M379.3,7.5 H482.0 V211.8" stroke="#1a1a00" stroke-opacity="0.55" stroke-width="0.5" fill="none"/>
<path d="M431.2,7.3 V211.8" stroke="#221a00" stroke-opacity="0.8" stroke-width="0.8"/>
<path d="M429.4,7.3 V150" stroke="#221a00" stroke-opacity="0.5" stroke-width="0.6"/>
<path d="M379.0,7.3 h4.5 M379.0,38.8 h4.5 M379.0,70.4 h4.5 M379.0,101.9 h4.5 M379.0,133.4 h4.5 M379.0,165.0 h4.5 M379.0,196.5 h4.5 M482.3,212 v-4.7 M467.4,212 v-4.7 M452.6,212 v-4.7 M437.7,212 v-4.7 M422.9,212 v-4.7 M408.0,212 v-4.7 M393.1,212 v-4.7 M378.3,212 v-4.7" stroke="#000" stroke-width="0.9" fill="none"/>
<path d="M379.0,13.6 h3.6 M379.0,19.9 h3.6 M379.0,26.2 h3.6 M379.0,32.5 h3.6 M379.0,45.1 h3.6 M379.0,51.4 h3.6 M379.0,57.8 h3.6 M379.0,64.1 h3.6 M379.0,76.7 h3.6 M379.0,83.0 h3.6 M379.0,89.3 h3.6 M379.0,95.6 h3.6 M379.0,108.2 h3.6 M379.0,114.5 h3.6 M379.0,120.8 h3.6 M379.0,127.1 h3.6 M379.0,139.7 h3.6 M379.0,146.0 h3.6 M379.0,152.4 h3.6 M379.0,158.7 h3.6 M379.0,171.3 h3.6 M379.0,177.6 h3.6 M379.0,183.9 h3.6 M379.0,190.2 h3.6 M379.0,202.8 h3.6 M379.0,209.1 h3.6 M478.6,212 v-2.2 M474.9,212 v-2.2 M471.2,212 v-2.2 M463.7,212 v-2.2 M460.0,212 v-2.2 M456.3,212 v-2.2 M448.9,212 v-2.2 M445.2,212 v-2.2 M441.4,212 v-2.2 M434.0,212 v-2.2 M430.3,212 v-2.2 M426.6,212 v-2.2 M419.1,212 v-2.2 M415.4,212 v-2.2 M411.7,212 v-2.2 M404.3,212 v-2.2 M400.6,212 v-2.2 M396.9,212 v-2.2 M389.4,212 v-2.2 M385.7,212 v-2.2 M382.0,212 v-2.2" stroke="#000018" stroke-opacity="0.5" stroke-width="0.8" fill="none"/>
<path d="M379.0,6.8 V212.2 H482.5" stroke="#000" stroke-width="1.3" fill="none"/>
<path d="M378.4,7.3 h5" stroke="#000" stroke-width="1.1"/>
<text x="375.8" y="10.2" text-anchor="end" font-size="7.8" fill="#333">0</text>
<text x="375.8" y="42.1" text-anchor="end" font-size="7.8" fill="#333">-10</text>
<text x="375.8" y="73.7" text-anchor="end" font-size="7.8" fill="#333">-20</text>
<text x="375.8" y="105.2" text-anchor="end" font-size="7.8" fill="#333">-30</text>
<text x="375.8" y="136.7" text-anchor="end" font-size="7.8" fill="#333">-40</text>
<text x="375.8" y="168.3" text-anchor="end" font-size="7.8" fill="#333">-50</text>
<text x="375.8" y="199.8" text-anchor="end" font-size="7.8" fill="#333">-60</text>
<text x="482.5" y="220.6" text-anchor="middle" font-size="7.8" fill="#333">0</text>
<text x="466.9" y="220.6" text-anchor="middle" font-size="7.8" fill="#333">-0.2</text>
<text x="452.2" y="220.6" text-anchor="middle" font-size="7.8" fill="#333">-0.4</text>
<text x="437.4" y="220.6" text-anchor="middle" font-size="7.8" fill="#333">-0.6</text>
<text x="422.7" y="220.6" text-anchor="middle" font-size="7.8" fill="#333">-0.8</text>
<text x="407.9" y="220.6" text-anchor="middle" font-size="7.8" fill="#333">-1</text>
<text x="393.2" y="220.6" text-anchor="middle" font-size="7.8" fill="#333">-1.2</text>
<text x="378.4" y="220.6" text-anchor="middle" font-size="7.8" fill="#333">-1.4</text>
<text transform="translate(360.3,103.3) rotate(-90)" text-anchor="middle" font-size="9" font-weight="bold">Z<tspan font-size="8.8" dx="-1.2"> (m)</tspan></text>
<text x="437.8" y="229.3" text-anchor="middle" font-size="9.5" font-weight="bold">Y<tspan font-size="9" dx="-1.6"> (m)</tspan></text>
</svg></body></html>
